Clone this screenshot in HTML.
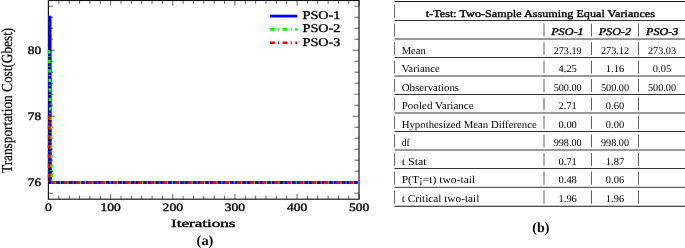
<!DOCTYPE html><html><head><meta charset="utf-8"><style>html,body{margin:0;padding:0;background:#fff;}svg{display:block}</style></head><body><svg text-rendering="geometricPrecision" width="685" height="248" viewBox="0 0 685 248"><rect width="685" height="248" fill="#fff"/><path d="M48.50 199.20v-5.2M48.50 0.50v5.2M58.86 199.20v-3.4M58.86 0.50v3.4M69.21 199.20v-3.4M69.21 0.50v3.4M79.57 199.20v-3.4M79.57 0.50v3.4M89.93 199.20v-3.4M89.93 0.50v3.4M100.28 199.20v-3.4M100.28 0.50v3.4M110.64 199.20v-5.2M110.64 0.50v5.2M121.00 199.20v-3.4M121.00 0.50v3.4M131.35 199.20v-3.4M131.35 0.50v3.4M141.71 199.20v-3.4M141.71 0.50v3.4M152.07 199.20v-3.4M152.07 0.50v3.4M162.42 199.20v-3.4M162.42 0.50v3.4M172.78 199.20v-5.2M172.78 0.50v5.2M183.14 199.20v-3.4M183.14 0.50v3.4M193.49 199.20v-3.4M193.49 0.50v3.4M203.85 199.20v-3.4M203.85 0.50v3.4M214.21 199.20v-3.4M214.21 0.50v3.4M224.56 199.20v-3.4M224.56 0.50v3.4M234.92 199.20v-5.2M234.92 0.50v5.2M245.28 199.20v-3.4M245.28 0.50v3.4M255.63 199.20v-3.4M255.63 0.50v3.4M265.99 199.20v-3.4M265.99 0.50v3.4M276.35 199.20v-3.4M276.35 0.50v3.4M286.70 199.20v-3.4M286.70 0.50v3.4M297.06 199.20v-5.2M297.06 0.50v5.2M307.42 199.20v-3.4M307.42 0.50v3.4M317.77 199.20v-3.4M317.77 0.50v3.4M328.13 199.20v-3.4M328.13 0.50v3.4M338.49 199.20v-3.4M338.49 0.50v3.4M348.84 199.20v-3.4M348.84 0.50v3.4M359.20 199.20v-5.2M359.20 0.50v5.2M48.40 193.20h4.7M359.00 193.20h-4.7M48.40 182.20h6.5M359.00 182.20h-6.5M48.40 171.20h4.7M359.00 171.20h-4.7M48.40 160.20h4.7M359.00 160.20h-4.7M48.40 149.20h4.7M359.00 149.20h-4.7M48.40 138.20h4.7M359.00 138.20h-4.7M48.40 127.20h4.7M359.00 127.20h-4.7M48.40 116.20h6.5M359.00 116.20h-6.5M48.40 105.20h4.7M359.00 105.20h-4.7M48.40 94.20h4.7M359.00 94.20h-4.7M48.40 83.20h4.7M359.00 83.20h-4.7M48.40 72.20h4.7M359.00 72.20h-4.7M48.40 61.20h4.7M359.00 61.20h-4.7M48.40 50.20h6.5M359.00 50.20h-6.5M48.40 39.20h4.7M359.00 39.20h-4.7M48.40 28.20h4.7M359.00 28.20h-4.7M48.40 17.20h4.7M359.00 17.20h-4.7M48.40 6.20h4.7M359.00 6.20h-4.7" stroke="#222" stroke-width="0.7" fill="none"/><rect x="48.4" y="0.5" width="310.60" height="198.70" fill="none" stroke="#111" stroke-width="1.15"/><path d="M49.85 15.8L50.2 182.45" stroke="#0000ff" stroke-width="3.3" fill="none"/><path d="M48.5 182.45H359.0" stroke="#0000ff" stroke-width="2.95" fill="none"/><path d="M49.1 50.2L51.8 181.45" stroke="#00ff00" stroke-width="2.8" fill="none" stroke-dasharray="3.4 2.65 0.8 2.65"/><path d="M51.8 182.45H359.0" stroke="#00ff00" stroke-width="2.9" fill="none" stroke-dasharray="4.4 4.0 0.8 3.21"/><path d="M49.1 115.6L49.1 181.45" stroke="#ff0000" stroke-width="2.8" fill="none" stroke-dasharray="3.6 2.7 0.8 2.65"/><path d="M51.0 182.45H359.0" stroke="#ff0000" stroke-width="2.9" fill="none" stroke-dasharray="4.2 4.2 0.8 3.21"/><path d="M270 16.1H297.3" stroke="#0000ff" stroke-width="2.8"/><path d="M270 29.4H297.3" stroke="#00ff00" stroke-width="2.6" stroke-dasharray="4.9 3.2 1.1 3.4"/><path d="M270 42.7H297.3" stroke="#ff0000" stroke-width="2.6" stroke-dasharray="4.9 3.2 1.1 3.4"/><g font-family="'Liberation Serif', serif" fill="#000"><text x="302.6" y="19.0" font-size="11.9" font-weight="normal" font-style="normal" text-anchor="start" textLength="37.8" lengthAdjust="spacingAndGlyphs" stroke="#000" stroke-width="0.35">PSO-1</text><text x="302.6" y="32.3" font-size="11.9" font-weight="normal" font-style="normal" text-anchor="start" textLength="37.8" lengthAdjust="spacingAndGlyphs" stroke="#000" stroke-width="0.35">PSO-2</text><text x="302.6" y="45.6" font-size="11.9" font-weight="normal" font-style="normal" text-anchor="start" textLength="37.8" lengthAdjust="spacingAndGlyphs" stroke="#000" stroke-width="0.35">PSO-3</text><text x="41.1" y="53.90" font-size="11.4" font-weight="normal" font-style="normal" text-anchor="end" textLength="13.3" lengthAdjust="spacingAndGlyphs" stroke="#000" stroke-width="0.35">80</text><text x="41.1" y="119.90" font-size="11.4" font-weight="normal" font-style="normal" text-anchor="end" textLength="13.3" lengthAdjust="spacingAndGlyphs" stroke="#000" stroke-width="0.35">78</text><text x="41.1" y="185.90" font-size="11.4" font-weight="normal" font-style="normal" text-anchor="end" textLength="13.3" lengthAdjust="spacingAndGlyphs" stroke="#000" stroke-width="0.35">76</text><text x="48.50" y="211.0" font-size="11.4" font-weight="normal" font-style="normal" text-anchor="middle" textLength="6.8" lengthAdjust="spacingAndGlyphs" stroke="#000" stroke-width="0.35">0</text><text x="110.64" y="211.0" font-size="11.4" font-weight="normal" font-style="normal" text-anchor="middle" textLength="20.3" lengthAdjust="spacingAndGlyphs" stroke="#000" stroke-width="0.35">100</text><text x="172.78" y="211.0" font-size="11.4" font-weight="normal" font-style="normal" text-anchor="middle" textLength="20.3" lengthAdjust="spacingAndGlyphs" stroke="#000" stroke-width="0.35">200</text><text x="234.92" y="211.0" font-size="11.4" font-weight="normal" font-style="normal" text-anchor="middle" textLength="20.3" lengthAdjust="spacingAndGlyphs" stroke="#000" stroke-width="0.35">300</text><text x="297.06" y="211.0" font-size="11.4" font-weight="normal" font-style="normal" text-anchor="middle" textLength="20.3" lengthAdjust="spacingAndGlyphs" stroke="#000" stroke-width="0.35">400</text><text x="359.20" y="211.0" font-size="11.4" font-weight="normal" font-style="normal" text-anchor="middle" textLength="20.3" lengthAdjust="spacingAndGlyphs" stroke="#000" stroke-width="0.35">500</text><text x="203.25" y="227.2" font-size="11.2" font-weight="normal" font-style="normal" text-anchor="middle" textLength="64.6" lengthAdjust="spacingAndGlyphs" stroke="#000" stroke-width="0.35">Iterations</text><text x="205" y="244.8" font-size="14" font-weight="bold" font-style="normal" text-anchor="middle" textLength="16.8" lengthAdjust="spacingAndGlyphs">(a)</text><text transform="translate(12.2 173.0) rotate(-90)" font-size="15.3" textLength="145.3" lengthAdjust="spacingAndGlyphs" stroke="#000" stroke-width="0.2">Transportation Cost(Gbest)</text></g><path d="M394.6 20.50H686.4M394.6 39.00H686.4M394.6 57.50H686.4M394.6 76.00H686.4M394.6 94.50H686.4M394.6 113.00H686.4M394.6 131.50H686.4M394.6 150.00H686.4M394.6 168.50H686.4M394.6 187.30H686.4" stroke="#000" stroke-width="0.8" fill="none"/><path d="M394.6 1.50H686.4M394.6 206.30H686.4" stroke="#111" stroke-width="1.1" fill="none"/><path d="M394.6 4.60V17.90M394.6 23.60V36.40M544.0 23.60V36.40M591.5 23.60V36.40M638.5 23.60V36.40M394.6 42.10V54.90M544.0 42.10V54.90M591.5 42.10V54.90M638.5 42.10V54.90M394.6 60.60V73.40M544.0 60.60V73.40M591.5 60.60V73.40M638.5 60.60V73.40M394.6 79.10V91.90M544.0 79.10V91.90M591.5 79.10V91.90M638.5 79.10V91.90M394.6 97.60V110.40M544.0 97.60V110.40M591.5 97.60V110.40M638.5 97.60V110.40M394.6 116.10V128.90M544.0 116.10V128.90M591.5 116.10V128.90M638.5 116.10V128.90M394.6 134.60V147.40M544.0 134.60V147.40M591.5 134.60V147.40M638.5 134.60V147.40M394.6 153.10V165.90M544.0 153.10V165.90M591.5 153.10V165.90M638.5 153.10V165.90M394.6 171.60V184.70M544.0 171.60V184.70M591.5 171.60V184.70M638.5 171.60V184.70M394.6 190.40V203.70M544.0 190.40V203.70M591.5 190.40V203.70M638.5 190.40V203.70" stroke="#222" stroke-width="0.72" fill="none"/><g font-family="'Liberation Serif', serif" fill="#000"><text x="540.35" y="16.6" font-size="10.2" font-weight="normal" font-style="normal" text-anchor="middle" textLength="229.2" lengthAdjust="spacingAndGlyphs" stroke="#000" stroke-width="0.35">t-Test: Two-Sample Assuming Equal Variances</text><text x="567.40" y="35.0" font-size="10.4" font-weight="normal" font-style="italic" text-anchor="middle" textLength="32.4" lengthAdjust="spacingAndGlyphs" stroke="#000" stroke-width="0.35">PSO-1</text><text x="614.90" y="35.0" font-size="10.4" font-weight="normal" font-style="italic" text-anchor="middle" textLength="32.4" lengthAdjust="spacingAndGlyphs" stroke="#000" stroke-width="0.35">PSO-2</text><text x="662.20" y="35.0" font-size="10.4" font-weight="normal" font-style="italic" text-anchor="middle" textLength="32.4" lengthAdjust="spacingAndGlyphs" stroke="#000" stroke-width="0.35">PSO-3</text><text x="401.7" y="53.60" font-size="10.6" font-weight="normal" font-style="normal" text-anchor="start" textLength="24.1" lengthAdjust="spacingAndGlyphs">Mean</text><text x="567.70" y="53.60" font-size="10.3" font-weight="normal" font-style="normal" text-anchor="middle" textLength="28.1" lengthAdjust="spacingAndGlyphs">273.19</text><text x="615.00" y="53.60" font-size="10.3" font-weight="normal" font-style="normal" text-anchor="middle" textLength="28.1" lengthAdjust="spacingAndGlyphs">273.12</text><text x="662.00" y="53.60" font-size="10.3" font-weight="normal" font-style="normal" text-anchor="middle" textLength="28.1" lengthAdjust="spacingAndGlyphs">273.03</text><text x="401.7" y="72.10" font-size="10.6" font-weight="normal" font-style="normal" text-anchor="start" textLength="38.2" lengthAdjust="spacingAndGlyphs">Variance</text><text x="567.70" y="72.10" font-size="10.3" font-weight="normal" font-style="normal" text-anchor="middle" textLength="18.3" lengthAdjust="spacingAndGlyphs">4.25</text><text x="615.00" y="72.10" font-size="10.3" font-weight="normal" font-style="normal" text-anchor="middle" textLength="18.3" lengthAdjust="spacingAndGlyphs">1.16</text><text x="662.00" y="72.10" font-size="10.3" font-weight="normal" font-style="normal" text-anchor="middle" textLength="18.3" lengthAdjust="spacingAndGlyphs">0.05</text><text x="401.7" y="90.60" font-size="10.6" font-weight="normal" font-style="normal" text-anchor="start" textLength="57.4" lengthAdjust="spacingAndGlyphs">Observations</text><text x="567.70" y="90.60" font-size="10.3" font-weight="normal" font-style="normal" text-anchor="middle" textLength="28.1" lengthAdjust="spacingAndGlyphs">500.00</text><text x="615.00" y="90.60" font-size="10.3" font-weight="normal" font-style="normal" text-anchor="middle" textLength="28.1" lengthAdjust="spacingAndGlyphs">500.00</text><text x="662.00" y="90.60" font-size="10.3" font-weight="normal" font-style="normal" text-anchor="middle" textLength="28.1" lengthAdjust="spacingAndGlyphs">500.00</text><text x="401.7" y="109.10" font-size="10.6" font-weight="normal" font-style="normal" text-anchor="start" textLength="72.0" lengthAdjust="spacingAndGlyphs">Pooled Variance</text><text x="567.70" y="109.10" font-size="10.3" font-weight="normal" font-style="normal" text-anchor="middle" textLength="18.3" lengthAdjust="spacingAndGlyphs">2.71</text><text x="615.00" y="109.10" font-size="10.3" font-weight="normal" font-style="normal" text-anchor="middle" textLength="18.3" lengthAdjust="spacingAndGlyphs">0.60</text><text x="401.7" y="127.60" font-size="10.6" font-weight="normal" font-style="normal" text-anchor="start" textLength="135.1" lengthAdjust="spacingAndGlyphs">Hypothesized Mean Difference</text><text x="567.70" y="127.60" font-size="10.3" font-weight="normal" font-style="normal" text-anchor="middle" textLength="18.3" lengthAdjust="spacingAndGlyphs">0.00</text><text x="615.00" y="127.60" font-size="10.3" font-weight="normal" font-style="normal" text-anchor="middle" textLength="18.3" lengthAdjust="spacingAndGlyphs">0.00</text><text x="401.7" y="146.10" font-size="10.6" font-weight="normal" font-style="normal" text-anchor="start" textLength="8.2" lengthAdjust="spacingAndGlyphs">df</text><text x="567.70" y="146.10" font-size="10.3" font-weight="normal" font-style="normal" text-anchor="middle" textLength="28.1" lengthAdjust="spacingAndGlyphs">998.00</text><text x="615.00" y="146.10" font-size="10.3" font-weight="normal" font-style="normal" text-anchor="middle" textLength="28.1" lengthAdjust="spacingAndGlyphs">998.00</text><text x="401.7" y="164.60" font-size="10.6" font-weight="normal" font-style="normal" text-anchor="start" textLength="25.0" lengthAdjust="spacingAndGlyphs">t Stat</text><text x="567.70" y="164.60" font-size="10.3" font-weight="normal" font-style="normal" text-anchor="middle" textLength="18.3" lengthAdjust="spacingAndGlyphs">0.71</text><text x="615.00" y="164.60" font-size="10.3" font-weight="normal" font-style="normal" text-anchor="middle" textLength="18.3" lengthAdjust="spacingAndGlyphs">1.87</text><text x="401.7" y="183.40" font-size="10.6" font-weight="normal" font-style="normal" text-anchor="start" textLength="73.5" lengthAdjust="spacingAndGlyphs">P(T¡=t) two-tail</text><text x="567.70" y="183.40" font-size="10.3" font-weight="normal" font-style="normal" text-anchor="middle" textLength="18.3" lengthAdjust="spacingAndGlyphs">0.48</text><text x="615.00" y="183.40" font-size="10.3" font-weight="normal" font-style="normal" text-anchor="middle" textLength="18.3" lengthAdjust="spacingAndGlyphs">0.06</text><text x="401.7" y="202.40" font-size="10.6" font-weight="normal" font-style="normal" text-anchor="start" textLength="77.6" lengthAdjust="spacingAndGlyphs">t Critical two-tail</text><text x="567.70" y="202.40" font-size="10.3" font-weight="normal" font-style="normal" text-anchor="middle" textLength="18.3" lengthAdjust="spacingAndGlyphs">1.96</text><text x="615.00" y="202.40" font-size="10.3" font-weight="normal" font-style="normal" text-anchor="middle" textLength="18.3" lengthAdjust="spacingAndGlyphs">1.96</text><text x="540.9" y="232.3" font-size="14" font-weight="bold" font-style="normal" text-anchor="middle" textLength="17.2" lengthAdjust="spacingAndGlyphs">(b)</text></g></svg></body></html>
